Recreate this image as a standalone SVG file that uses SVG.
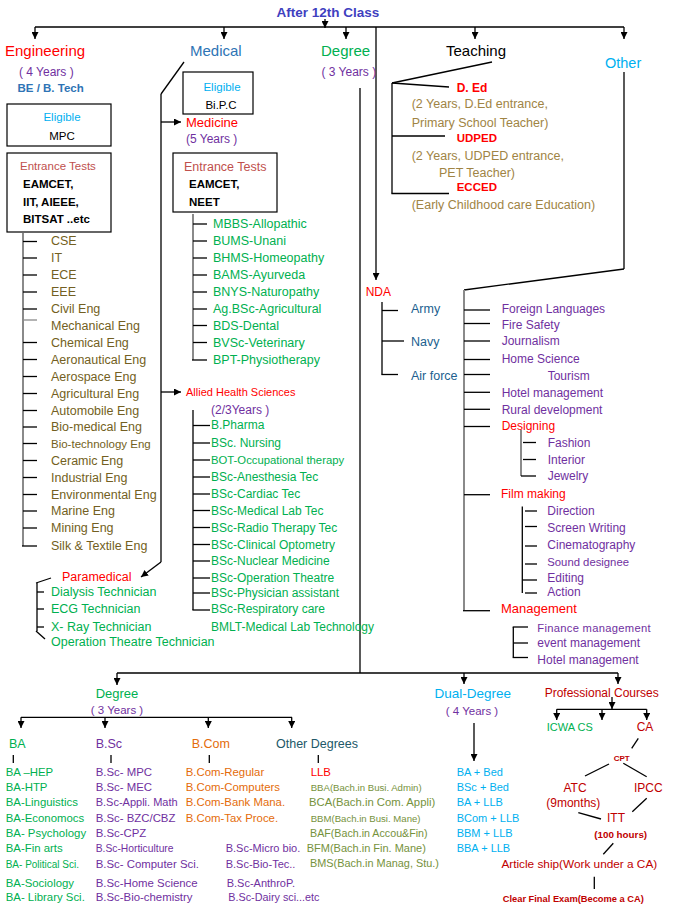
<svg xmlns="http://www.w3.org/2000/svg" width="687" height="912" viewBox="0 0 687 912">
<defs>
<marker id="ar" viewBox="0 0 10 10" refX="10" refY="5" markerWidth="7" markerHeight="7" markerUnits="userSpaceOnUse" orient="auto"><path d="M0,0 L10,5 L0,10 z" fill="#000"/></marker>
<style>
text{font-family:"Liberation Sans",Arial,sans-serif;}
.ln{stroke:#000;stroke-width:1.3;fill:none}
.gl{stroke:#8a8a8a;stroke-width:2;fill:none}
.bx{stroke:#000;stroke-width:1.2;fill:#fff}
.ar{stroke:#000;stroke-width:1.3;fill:none;marker-end:url(#ar)}
.red{fill:#ff0000}
.pur{fill:#7030a0}
.grn{fill:#00b050}
.lb{fill:#00b0f0}
.eng{fill:#735f22;font-size:12.5px}
.med{fill:#00b050;font-size:12.5px}
.al{fill:#00b050;font-size:12px}
.tch{fill:#a08444;font-size:12.5px}
.oth{fill:#7030a0;font-size:12px}
.nda{fill:#215f8f;font-size:12.5px}
.et{fill:#c0504d}
.bk{fill:#000;font-weight:bold;font-size:11.5px}
.bl{font-size:11.4px}
.org{fill:#e46c0a}
.olv{fill:#76923c}
.dr{fill:#c00000}
</style>
</defs>

<g id="connectors">
<line class="ln" x1="35" y1="27" x2="624" y2="27"/>
<line class="ar" x1="325" y1="19" x2="325" y2="28"/>
<line class="ar" x1="35" y1="27" x2="35" y2="39"/>
<line class="ar" x1="224" y1="27" x2="224" y2="39"/>
<line class="ar" x1="346" y1="27" x2="346" y2="39"/>
<line class="ar" x1="475" y1="27" x2="475" y2="39"/>
<line class="ar" x1="624" y1="27" x2="624" y2="39"/>
<line class="ar" x1="376" y1="27" x2="376" y2="280"/>
<line class="gl" x1="23" y1="233" x2="23" y2="546"/>
<g class="ln">
<line x1="23" y1="241.5" x2="37" y2="241.5"/><line x1="23" y1="258" x2="37" y2="258"/><line x1="23" y1="275" x2="37" y2="275"/><line x1="23" y1="292" x2="37" y2="292"/><line x1="23" y1="309" x2="37" y2="309"/>
<line x1="23" y1="320" x2="37" y2="320" stroke="#8a8a8a"/><line x1="23" y1="342.5" x2="37" y2="342.5"/><line x1="23" y1="359.5" x2="37" y2="359.5"/><line x1="23" y1="376.5" x2="37" y2="376.5"/><line x1="23" y1="393.5" x2="37" y2="393.5"/>
<line x1="23" y1="410.5" x2="37" y2="410.5"/><line x1="23" y1="427" x2="37" y2="427"/><line x1="23" y1="443.5" x2="37" y2="443.5"/><line x1="23" y1="460.5" x2="37" y2="460.5"/><line x1="23" y1="477.5" x2="37" y2="477.5"/>
<line x1="23" y1="494.5" x2="37" y2="494.5"/><line x1="23" y1="511" x2="37" y2="511"/><line x1="23" y1="528" x2="37" y2="528"/><line x1="22" y1="546" x2="37" y2="546"/>
</g>
<line class="ln" x1="184" y1="62" x2="161" y2="94"/>
<line class="ln" x1="161" y1="94" x2="161" y2="562"/>
<line class="ar" x1="161" y1="122" x2="181" y2="122"/>
<line class="ar" x1="161" y1="392" x2="181" y2="392"/>
<line class="ar" x1="161" y1="562" x2="141" y2="577"/>
<line class="gl" x1="193" y1="214" x2="193" y2="360"/>
<g class="ln">
<line x1="193" y1="224" x2="207" y2="224"/><line x1="193" y1="241" x2="207" y2="241"/><line x1="193" y1="258" x2="207" y2="258"/><line x1="193" y1="275" x2="207" y2="275"/><line x1="193" y1="292" x2="207" y2="292"/>
<line x1="193" y1="309" x2="207" y2="309"/><line x1="193" y1="325.5" x2="207" y2="325.5"/><line x1="193" y1="342.5" x2="207" y2="342.5"/><line x1="192" y1="360" x2="207" y2="360"/>
</g>
<line class="ln" x1="193" y1="410" x2="193" y2="610"/>
<g class="ln">
<line x1="193" y1="425.5" x2="210" y2="425.5"/><line x1="193" y1="443" x2="210" y2="443"/><line x1="193" y1="460" x2="210" y2="460"/><line x1="193" y1="477" x2="210" y2="477"/><line x1="193" y1="494" x2="210" y2="494"/>
<line x1="193" y1="510.5" x2="210" y2="510.5"/><line x1="193" y1="527.5" x2="210" y2="527.5"/><line x1="193" y1="544.5" x2="210" y2="544.5"/><line x1="193" y1="561" x2="210" y2="561"/><line x1="193" y1="578" x2="210" y2="578"/>
<line x1="193" y1="593" x2="210" y2="593"/><line x1="192.4" y1="610" x2="210" y2="610"/>
</g>
<g class="ln">
<line x1="36" y1="583" x2="51" y2="578"/>
<line x1="37" y1="583" x2="37" y2="631"/>
<line x1="36" y1="631" x2="45" y2="639"/>
<line x1="37" y1="592" x2="44" y2="592"/><line x1="37" y1="609" x2="44" y2="609"/><line x1="37" y1="627" x2="44" y2="627"/>
</g>
<line class="ln" x1="360" y1="88" x2="360" y2="673" stroke="#444"/>
<line class="ln" x1="117" y1="673" x2="618" y2="673"/>
<line class="ar" x1="117" y1="673" x2="117" y2="685"/>
<line class="ar" x1="464" y1="673" x2="464" y2="684"/>
<line class="ar" x1="618" y1="673" x2="618" y2="684"/>
<g class="ln">
<line x1="492" y1="62" x2="392" y2="83"/>
<line x1="392" y1="83" x2="449" y2="87"/>
<line x1="392" y1="83" x2="392" y2="193.5"/>
<line x1="392" y1="136" x2="445" y2="136"/>
<line x1="391.4" y1="193.5" x2="449" y2="193.5"/>
</g>
<g class="ln">
<line x1="382" y1="302" x2="382" y2="374.5"/>
<line x1="382" y1="310.5" x2="398" y2="310.5"/>
<line x1="382" y1="341" x2="404" y2="341"/>
<line x1="381.4" y1="374.5" x2="398" y2="374.5"/>
</g>
<line class="ln" x1="624" y1="72" x2="624" y2="269"/>
<line class="ln" x1="624" y1="269" x2="464" y2="290"/>
<line class="gl" x1="464" y1="290" x2="464" y2="610"/>
<g class="ln">
<line x1="464" y1="310" x2="490" y2="310"/><line x1="464" y1="323.5" x2="490" y2="323.5"/><line x1="464" y1="341" x2="490" y2="341"/><line x1="464" y1="359.5" x2="490" y2="359.5"/><line x1="464" y1="374.5" x2="490" y2="374.5"/>
<line x1="464" y1="392.3" x2="490" y2="392.3"/><line x1="464" y1="409.3" x2="490" y2="409.3"/><line x1="464" y1="426.5" x2="490" y2="426.5"/><line x1="464" y1="494.7" x2="490" y2="494.7"/><line x1="463" y1="610.7" x2="490" y2="610.7"/>
</g>
<line class="gl" x1="521" y1="430" x2="521" y2="476"/>
<g class="ln">
<line x1="523" y1="442.5" x2="536" y2="442.5"/><line x1="523" y1="459.5" x2="536" y2="459.5"/><line x1="521" y1="476" x2="536" y2="476"/>
</g>
<g class="ln">
<line x1="522.3" y1="506.5" x2="522.3" y2="593"/>
<line x1="525" y1="511" x2="537" y2="511"/><line x1="525" y1="526.5" x2="537" y2="526.5"/><line x1="525" y1="546" x2="537" y2="546"/><line x1="525" y1="564" x2="537" y2="564"/><line x1="522.3" y1="580" x2="537" y2="580"/><line x1="525" y1="593" x2="537" y2="593"/>
</g>
<g class="ln">
<line x1="513.3" y1="627" x2="513.3" y2="657.5"/>
<line x1="512.7" y1="627" x2="528" y2="627"/><line x1="513.3" y1="643" x2="528" y2="643"/><line x1="512.7" y1="657.5" x2="528" y2="657.5"/>
</g>
<line class="ln" x1="21" y1="717.3" x2="292" y2="717.3"/>
<line class="ar" x1="21" y1="717.3" x2="21" y2="728"/>
<line class="ar" x1="105" y1="717.3" x2="105" y2="728"/>
<line class="ar" x1="208.3" y1="717.3" x2="208.3" y2="728"/>
<line class="ar" x1="291.7" y1="717.3" x2="291.7" y2="728"/>
<g class="ln">
<line x1="13.3" y1="755" x2="13.3" y2="763"/><line x1="111" y1="755" x2="111" y2="763"/><line x1="209.3" y1="755" x2="209.3" y2="763"/><line x1="318.3" y1="755" x2="318.3" y2="763"/>
</g>
<line class="ar" x1="474" y1="723" x2="474" y2="761"/>
<line class="ar" x1="612" y1="697" x2="612" y2="709"/>
<line class="ln" x1="556.7" y1="709.3" x2="646.7" y2="709.3"/>
<line class="ar" x1="556.7" y1="709.3" x2="556.7" y2="720"/>
<line class="ar" x1="602" y1="709.3" x2="602" y2="720"/>
<line class="ar" x1="646.7" y1="709.3" x2="646.7" y2="720"/>
<g class="ln">
<line x1="638.3" y1="738.3" x2="631.7" y2="748.3"/>
<line x1="609" y1="764" x2="585" y2="776"/>
<line x1="623.3" y1="763.3" x2="646.7" y2="776.7"/>
<line x1="646.7" y1="798.3" x2="632.3" y2="811.7"/>
<line x1="578.3" y1="812.7" x2="601" y2="819"/>
<line x1="613.3" y1="843.3" x2="603.3" y2="854.3"/>
<line x1="594.3" y1="876.7" x2="594.3" y2="889"/>
</g>
</g>

<g id="title"><text x="328" y="17" text-anchor="middle" font-size="13.5" font-weight="bold" fill="#3f3fbf">After 12th Class</text></g>

<g id="engineering">
<text x="5" y="56" font-size="15" class="red">Engineering</text>
<text x="19" y="75.5" font-size="12" class="pur">( 4 Years )</text>
<text x="17.5" y="91.7" font-size="11.5" font-weight="bold" fill="#2e74b5">BE / B. Tech</text>
<rect class="bx" x="7" y="104" width="104" height="42"/>
<text x="62" y="121" text-anchor="middle" font-size="11.5" class="lb">Eligible</text>
<text x="62" y="140" text-anchor="middle" font-size="11.5" fill="#000">MPC</text>
<rect class="bx" x="7" y="153" width="104" height="79"/>
<text x="20" y="170" font-size="11.5" class="et">Entrance  Tests</text>
<text x="23" y="188" class="bk">EAMCET,</text>
<text x="23" y="206" class="bk">IIT,  AIEEE,</text>
<text x="23" y="223" class="bk">BITSAT ..etc</text>
<g class="eng">
<text x="51" y="245">CSE</text><text x="51" y="262">IT</text><text x="51" y="279">ECE</text><text x="51" y="296">EEE</text><text x="51" y="313">Civil Eng</text>
<text x="51" y="330">Mechanical Eng</text><text x="51" y="346.5">Chemical Eng</text><text x="51" y="363.5">Aeronautical Eng</text><text x="51" y="380.5">Aerospace Eng</text><text x="51" y="397.5">Agricultural Eng</text>
<text x="51" y="414.5">Automobile Eng</text><text x="51" y="431">Bio-medical Eng</text><text x="51" y="447.5" font-size="11.5">Bio-technology  Eng</text><text x="51" y="464.5">Ceramic Eng</text><text x="51" y="481.5">Industrial Eng</text>
<text x="51" y="498.5">Environmental Eng</text><text x="51" y="515">Marine Eng</text><text x="51" y="531.7">Mining Eng</text><text x="51" y="549.5">Silk &amp; Textile Eng</text>
</g>
</g>

<g id="medical">
<text x="190" y="56" font-size="15" fill="#2e74b5">Medical</text>
<rect class="bx" x="183" y="72" width="70" height="42"/>
<text x="222" y="91" text-anchor="middle" font-size="11.5" class="lb">Eligible</text>
<text x="221" y="109" text-anchor="middle" font-size="11.5" fill="#000">Bi.P.C</text>
<text x="186" y="126.5" font-size="13" class="red">Medicine</text>
<text x="186" y="142.5" font-size="12" class="pur">(5 Years )</text>
<rect class="bx" x="173" y="153" width="104" height="59"/>
<text x="184" y="170.5" font-size="12.5" class="et">Entrance Tests</text>
<text x="189" y="187.5" class="bk">EAMCET,</text>
<text x="189" y="206" class="bk">NEET</text>
<g class="med">
<text x="213" y="227.5">MBBS-Allopathic</text><text x="213" y="245">BUMS-Unani</text><text x="213" y="261.5">BHMS-Homeopathy</text><text x="213" y="278.5">BAMS-Ayurveda</text><text x="213" y="295.5">BNYS-Naturopathy</text>
<text x="213" y="313">Ag.BSc-Agricultural</text><text x="213" y="329.5">BDS-Dental</text><text x="213" y="346.5">BVSc-Veterinary</text><text x="213" y="363.5">BPT-Physiotherapy</text>
</g>
<text x="186" y="396" font-size="11" class="red">Allied Health  Sciences</text>
<text x="211" y="414.2" font-size="12" class="pur">(2/3Years )</text>
<g class="al">
<text x="211" y="429.2">B.Pharma</text><text x="211" y="447">BSc. Nursing</text><text x="211" y="464" font-size="11.3">BOT-Occupational  therapy</text><text x="211" y="481">BSc-Anesthesia Tec</text><text x="211" y="498">BSc-Cardiac Tec</text>
<text x="211" y="514.5">BSc-Medical Lab Tec</text><text x="211" y="531.5">BSc-Radio Therapy Tec</text><text x="211" y="548.5">BSc-Clinical Optometry</text><text x="211" y="565.2">BSc-Nuclear Medicine</text><text x="211" y="582">BSc-Operation Theatre</text>
<text x="211" y="596.5">BSc-Physician assistant</text><text x="211" y="613">BSc-Respiratory care</text><text x="211" y="631.2">BMLT-Medical Lab Technology</text>
</g>
</g>

<g id="paramedical">
<text x="62" y="581.4" font-size="12.5" class="red">Paramedical</text>
<g class="med">
<text x="51" y="596">Dialysis Technician</text><text x="51" y="613">ECG Technician</text><text x="51" y="631.4">X- Ray Technician</text><text x="51" y="646.4">Operation Theatre Technician</text>
</g>
</g>

<g id="degree">
<text x="321" y="56" font-size="15" class="grn">Degree</text>
<text x="321.5" y="75.5" font-size="12" class="pur">( 3 Years )</text>
</g>

<g id="teaching">
<text x="446" y="56" font-size="15" fill="#000">Teaching</text>
<text x="456.7" y="91.5" font-size="12" font-weight="bold" class="red">D. Ed</text>
<text x="411.7" y="108.4" class="tch">(2 Years, D.Ed entrance,</text>
<text x="411.7" y="127" class="tch">Primary School Teacher)</text>
<text x="456.7" y="141.9" font-size="11.5" font-weight="bold" class="red">UDPED</text>
<text x="411.7" y="160.4" class="tch">(2 Years, UDPED entrance,</text>
<text x="439" y="177" class="tch">PET Teacher)</text>
<text x="456.7" y="191" font-size="11.5" font-weight="bold" class="red">ECCED</text>
<text x="411.7" y="209.4" class="tch">(Early Childhood  care Education)</text>
</g>

<g id="nda">
<text x="365.7" y="296" font-size="12" class="red">NDA</text>
<text x="411" y="313.4" class="nda">Army</text>
<text x="411" y="346" class="nda">Navy</text>
<text x="411" y="380" class="nda">Air force</text>
</g>

<g id="other">
<text x="605" y="67.6" font-size="14.5" class="lb">Other</text>
<g class="oth">
<text x="501.7" y="313.2">Foreign Languages</text><text x="501.7" y="328.5">Fire Safety</text><text x="501.7" y="345.2">Journalism</text><text x="501.7" y="362.5">Home Science</text>
<text x="547.7" y="380">Tourism</text><text x="501.7" y="396.5">Hotel management</text><text x="501.7" y="413.5">Rural development</text>
<text x="501.7" y="429.5" class="red">Designing</text>
<text x="547.7" y="446.5">Fashion</text><text x="547.7" y="463.5">Interior</text><text x="547.7" y="480.2">Jewelry</text>
<text x="501" y="497.5" class="red">Film making</text>
<text x="547.3" y="515">Direction</text><text x="547.3" y="532">Screen Writing</text><text x="547.3" y="549.2">Cinematography</text><text x="547.3" y="566" font-size="11.3">Sound  designee</text><text x="547.3" y="581.5">Editing</text><text x="547.3" y="596">Action</text>
<text x="501" y="612.8" font-size="13" class="red">Management</text>
<text x="537.3" y="631.5" font-size="11.2" letter-spacing="0.3">Finance  management</text><text x="537.3" y="647">event management</text><text x="537.3" y="663.5">Hotel management</text>
</g>
</g>

<g id="degree-bottom">
<text x="117" y="697.5" text-anchor="middle" font-size="13" class="grn">Degree</text>
<text x="117" y="714.2" text-anchor="middle" font-size="11.5" class="pur">( 3 Years )</text>
<text x="9" y="747.6" font-size="12.5" class="grn">BA</text>
<text x="95.7" y="747.6" font-size="12.5" class="pur">B.Sc</text>
<text x="191.7" y="747.6" font-size="12.5" class="org">B.Com</text>
<text x="276" y="747.6" font-size="12.5" fill="#215868">Other Degrees</text>
<g class="bl grn">
<text x="5.7" y="775.8">BA –HEP</text><text x="5.7" y="791.4">BA-HTP</text><text x="5.7" y="806.4">BA-Linguistics</text><text x="5.7" y="822.4">BA-Economocs</text><text x="5.7" y="837.4">BA- Psychology</text>
<text x="5.7" y="852.4">BA-Fin arts</text><text x="5.7" y="868" font-size="10">BA- Political Sci.</text><text x="5.7" y="887.4">BA-Sociology</text><text x="5.7" y="901.4">BA- Library Sci.</text>
</g>
<g class="bl pur">
<text x="95.7" y="775.8">B.Sc- MPC</text><text x="95.7" y="791.4">B.Sc- MEC</text><text x="95.7" y="806.4" font-size="11">B.Sc-Appli. Math</text><text x="95.7" y="822.4">B.Sc- BZC/CBZ</text><text x="95.7" y="837.4">B.Sc-CPZ</text>
<text x="95.7" y="852" font-size="10.3">B.Sc-Horticulture</text><text x="95.7" y="868.4">B.Sc- Computer Sci.</text><text x="95.7" y="887.4">B.Sc-Home Science</text><text x="95.7" y="901.4">B.Sc-Bio-chemistry</text>
<text x="225.7" y="852.4" font-size="11">B.Sc-Micro bio.</text><text x="225.7" y="868.4" font-size="11">B.Sc-Bio-Tec..</text><text x="226.7" y="887.4" font-size="11">B.Sc-AnthroP.</text><text x="228.3" y="901.4" font-size="10.8">B.Sc-Dairy sci...etc</text>
</g>
<g class="bl org">
<text x="185.7" y="775.8">B.Com-Regular</text><text x="185.7" y="791.4">B.Com-Computers</text><text x="185.7" y="806.4">B.Com-Bank Mana.</text><text x="185.7" y="822.4">B.Com-Tax Proce.</text>
</g>
<text x="310.7" y="775.8" font-size="11.4" class="red">LLB</text>
<g class="olv">
<text x="310.7" y="791.2" font-size="9.6">BBA(Bach.in Busi. Admin)</text>
<text x="309" y="806.4" font-size="11.3">BCA(Bach.in Com. Appli)</text>
<text x="310.7" y="822.2" font-size="9.6">BBM(Bach.in Busi. Mane)</text>
<text x="310" y="837.4" font-size="10.7">BAF(Bach.in Accou&amp;Fin)</text>
<text x="306.7" y="852.4" font-size="11">BFM(Bach.in Fin. Mane)</text>
<text x="310" y="867.4" font-size="10.9">BMS(Bach.in Manag, Stu.)</text>
</g>
</g>

<g id="dual-degree">
<text x="472.7" y="697.9" text-anchor="middle" font-size="13.5" class="lb">Dual-Degree</text>
<text x="472" y="715" text-anchor="middle" font-size="11.5" class="pur">( 4 Years )</text>
<g class="lb" font-size="11">
<text x="456.7" y="775.8">BA + Bed</text><text x="456.7" y="791.2">BSc + Bed</text><text x="456.7" y="806.4">BA + LLB</text><text x="456.7" y="822.2">BCom + LLB</text><text x="456.7" y="837.4">BBM + LLB</text><text x="456.7" y="852.4">BBA + LLB</text>
</g>
</g>

<g id="professional">
<text x="601.7" y="697.3" text-anchor="middle" font-size="12" class="dr">Professional Courses</text>
<text x="546.7" y="731" font-size="11" class="grn">ICWA CS</text>
<text x="645" y="731" text-anchor="middle" font-size="12" class="dr">CA</text>
<text x="621.7" y="761.3" text-anchor="middle" font-size="8" font-weight="bold" class="dr">CPT</text>
<text x="575" y="791.5" text-anchor="middle" font-size="12" class="dr">ATC</text>
<text x="648.3" y="791.5" text-anchor="middle" font-size="12" class="dr">IPCC</text>
<text x="573.3" y="806.5" text-anchor="middle" font-size="12" class="dr">(9months)</text>
<text x="616" y="821.5" text-anchor="middle" font-size="12" class="dr">ITT</text>
<text x="620.7" y="837.5" text-anchor="middle" font-size="9.8" font-weight="bold" class="dr">(100 hours)</text>
<text x="579.3" y="868.2" text-anchor="middle" font-size="11.8" class="dr">Article ship(Work under a CA)</text>
<text x="573.3" y="901.5" text-anchor="middle" font-size="9.3" font-weight="bold" class="dr">Clear Final Exam(Become a CA)</text>
</g>
</svg>
